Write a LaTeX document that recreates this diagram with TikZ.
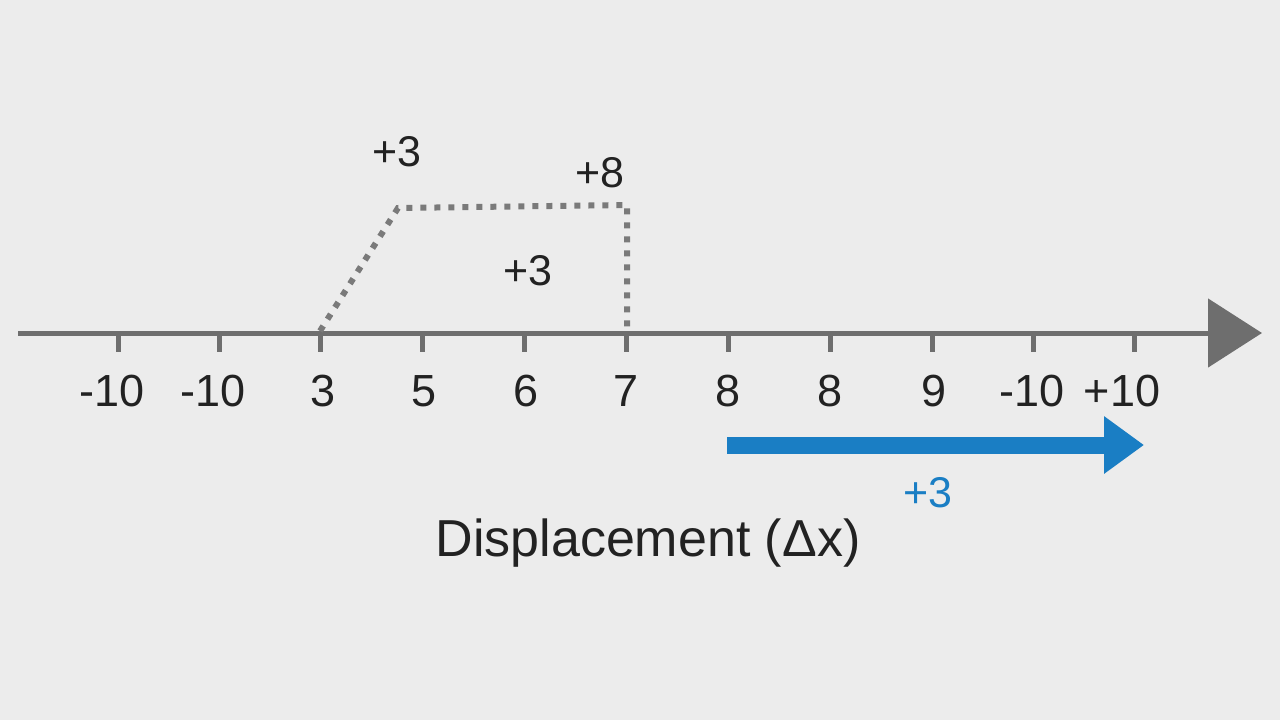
\documentclass[tikz,border=0pt]{standalone}
\usepackage{fontspec}
\setmainfont{Liberation Sans}
\usetikzlibrary{arrows.meta}
\definecolor{bg}{HTML}{ECECEC}
\definecolor{axisgray}{HTML}{6E6E6E}
\definecolor{dotgray}{HTML}{7A7A7A}
\definecolor{txt}{HTML}{222222}
\definecolor{blu}{HTML}{1A7EC4}
\begin{document}
\begin{tikzpicture}[x=1pt,y=-1pt,
  ticklab/.style={text=txt,font=\fontsize{45}{54}\selectfont,inner sep=0pt,anchor=center},
  upper/.style={text=txt,font=\fontsize{43}{52}\selectfont,inner sep=0pt,anchor=center},
  tickmark/.style={draw=axisgray,line width=5pt},
  dotline/.style={draw=dotgray,line width=6pt,dash pattern=on 6pt off 8pt}]
\fill[bg] (0,0) rectangle (1280,720);
\useasboundingbox (0,0) rectangle (1280,720);
% axis
\coordinate (axL) at (18,333);
\coordinate (axR) at (1262,333);
\draw[axisgray,line width=5pt,-{Triangle[length=54pt,width=68pt]}] (axL) -- (axR);
% ticks
\foreach \x/\n in {118/t1,219/t2,320/t3,422/t4,524/t5,626/t6,728/t7,830/t8,932/t9,1033/t10,1134/t11}{
  \coordinate (\n) at (\x,333);
  \draw[tickmark] (\n) -- ++(0,19);
}
% tick labels
\node[ticklab] (l1) at (112,391) {-10};
\node[ticklab] (l2) at (213,391) {-10};
\node[ticklab] (l3) at (323,391) {3};
\node[ticklab] (l4) at (424,391) {5};
\node[ticklab] (l5) at (526,391) {6};
\node[ticklab] (l6) at (626,391) {7};
\node[ticklab] (l7) at (728,391) {8};
\node[ticklab] (l8) at (830,391) {8};
\node[ticklab] (l9) at (934,391) {9};
\node[ticklab] (l10) at (1032,391) {-10};
\node[ticklab] (l11) at (1122,391) {+10};
% dotted path
\coordinate (d0) at (320,331);
\coordinate (d1) at (398,208);
\coordinate (d2) at (627,205);
\coordinate (d3) at (627,331);
\draw[dotline] (d0) -- (d1) -- (d2) -- (d3);
% upper labels
\node[upper] (u1) at (397,152) {+3};
\node[upper] (u2) at (600,173) {+8};
\node[upper] (u3) at (528,271) {+3};
% blue arrow
\coordinate (b0) at (727,445);
\coordinate (b1) at (1144,445);
\draw[blu,line width=17pt,-{Triangle[length=40pt,width=55pt]}] (b0) -- (b1);
\node[upper,text=blu] (bl) at (928,493) {+3};
% title
\node[text=txt,font=\fontsize{52}{62}\selectfont,inner sep=0pt,anchor=center] (title) at (648,543) {Displacement (Δx)};
\end{tikzpicture}
\end{document}
